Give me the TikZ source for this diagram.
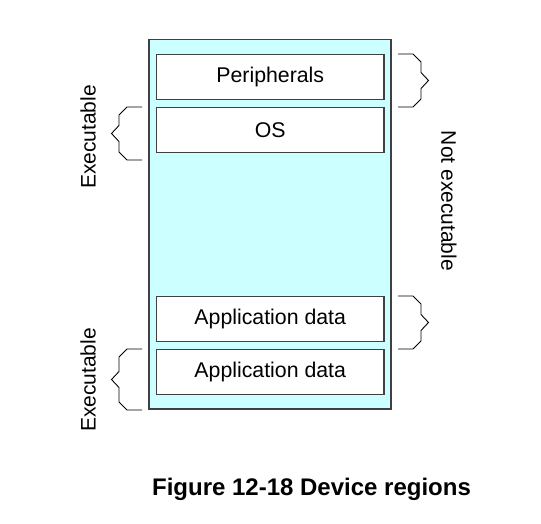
\documentclass[tikz,border=0pt]{standalone}
\usepackage{fontspec}
\setmainfont{Liberation Sans}
\usepackage{xcolor}
\definecolor{regionfill}{HTML}{CCFFFF}
\definecolor{regionline}{HTML}{404040}

\begin{document}
\begin{tikzpicture}[x=1pt,y=-1pt,
    region/.style={draw=regionline,line width=1.4pt,fill=white,
      minimum width=227.5pt,minimum height=45pt,inner sep=0pt,
      font=\fontsize{21.3}{25}\selectfont},
    bracket/.style={draw=black,line width=0.9pt},
    sidelabel/.style={font=\fontsize{21}{25}\selectfont}]
    \useasboundingbox (0,0) rectangle (541,523);

    \draw[regionline,line width=1.4pt,fill=regionfill] (149,39.5) rectangle (391,409);

    \node[region] (periph) at (270.25,77) {Peripherals};
    \node[region] (os) at (270.25,129.75) {OS};
    \node[region] (appdata) at (270.25,319) {Application data};
    \node[region] (appcode) at (270.25,371.75) {Application data};

    \draw[bracket] (398,54) -- ++(15,0) -- ++(8,8) -- ++(0,10.5) -- ++(7.5,8)
      -- ++(-7.5,8) -- ++(0,10.5) -- ++(-8,8) -- ++(-15,0);
    \draw[bracket] (398,296) -- ++(15,0) -- ++(8,8) -- ++(0,10.5) -- ++(7.5,8)
      -- ++(-7.5,8) -- ++(0,10.5) -- ++(-8,8) -- ++(-15,0);
    \draw[bracket] (142,107) -- ++(-15,0) -- ++(-8,8) -- ++(0,10.5) -- ++(-7.5,8)
      -- ++(7.5,8) -- ++(0,10.5) -- ++(8,8) -- ++(15,0);
    \draw[bracket] (142,349) -- ++(-15,0) -- ++(-8,8) -- ++(0,14.5) -- ++(-7.5,8)
      -- ++(7.5,8) -- ++(0,14.5) -- ++(8,8) -- ++(15,0);

    \node[sidelabel,rotate=90] (exectop) at (88,137) {Executable};
    \node[sidelabel,rotate=90] (execbottom) at (88,380) {Executable};
    \node[sidelabel,rotate=-90] (notexec) at (449,201) {Not executable};

    \node[anchor=base,font=\fontsize{24}{28}\selectfont\bfseries] (caption) at (311.5,495)
      {Figure 12-18 Device regions};
\end{tikzpicture}
\end{document}
